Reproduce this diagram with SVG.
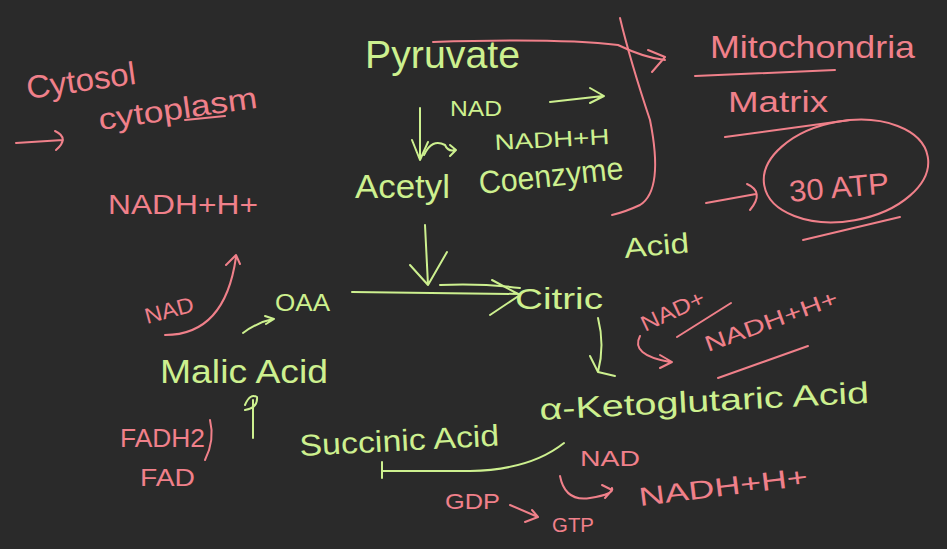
<svg xmlns="http://www.w3.org/2000/svg" width="947" height="549" viewBox="0 0 947 549">
<style>
.p{fill:#f0808a}
.g{fill:#cdf08f}
text{font-family:"Liberation Sans",Arial,sans-serif}
.lp{stroke:#f0808a;stroke-width:2;fill:none;stroke-linecap:round;stroke-linejoin:round}
.lg{stroke:#cdf08f;stroke-width:2;fill:none;stroke-linecap:round;stroke-linejoin:round}
</style>
<rect width="947" height="549" fill="#2a2a2a"/>
<g id="cytosol"><text class="p" x="28" y="99" font-size="32" textLength="110" lengthAdjust="spacingAndGlyphs" transform="rotate(-8 28 99)">Cytosol</text></g>
<g id="cytoplasm"><text class="p" x="100" y="130" font-size="30" textLength="160" lengthAdjust="spacingAndGlyphs" transform="rotate(-8 100 130)">cytoplasm</text></g>
<g id="nadh-left"><text class="p" x="108" y="214" font-size="28" textLength="150" lengthAdjust="spacingAndGlyphs">NADH+H+</text></g>
<g id="nad-left"><text class="p" x="147" y="324" font-size="22" textLength="50" lengthAdjust="spacingAndGlyphs" transform="rotate(-15 147 324)">NAD</text></g>
<g id="oaa"><text class="g" x="275" y="311" font-size="24" textLength="55" lengthAdjust="spacingAndGlyphs">OAA</text></g>
<g id="malic"><text class="g" x="160" y="383" font-size="34" textLength="168" lengthAdjust="spacingAndGlyphs">Malic Acid</text></g>
<g id="fadh2"><text class="p" x="120" y="447" font-size="26" textLength="85" lengthAdjust="spacingAndGlyphs">FADH2</text></g>
<g id="fad"><text class="p" x="140" y="486" font-size="24" textLength="55" lengthAdjust="spacingAndGlyphs">FAD</text></g>
<g id="succinic"><text class="g" x="300" y="456" font-size="30" textLength="200" lengthAdjust="spacingAndGlyphs" transform="rotate(-3 300 456)">Succinic Acid</text></g>
<g id="ketoglutaric"><text class="g" x="540" y="420" font-size="30" textLength="330" lengthAdjust="spacingAndGlyphs" transform="rotate(-3 540 420)">α-Ketoglutaric Acid</text></g>
<g id="citric"><text class="g" x="515" y="309" font-size="30" textLength="88" lengthAdjust="spacingAndGlyphs">Citric</text><text class="g" x="625" y="258" font-size="28" textLength="65" lengthAdjust="spacingAndGlyphs" transform="rotate(-5 625 258)">Acid</text></g>
<g id="nadplus"><text class="p" x="645" y="332" font-size="22" textLength="68" lengthAdjust="spacingAndGlyphs" transform="rotate(-25 645 332)">NAD+</text></g>
<g id="nadh-mid"><text class="p" x="708" y="352" font-size="22" textLength="140" lengthAdjust="spacingAndGlyphs" transform="rotate(-20 708 352)">NADH+H+</text></g>
<g id="nad-bottom"><text class="p" x="580" y="466" font-size="22" textLength="60" lengthAdjust="spacingAndGlyphs">NAD</text></g>
<g id="nadh-bottom"><text class="p" x="640" y="506" font-size="26" textLength="170" lengthAdjust="spacingAndGlyphs" transform="rotate(-7 640 506)">NADH+H+</text></g>
<g id="gdp"><text class="p" x="445" y="509" font-size="22" textLength="55" lengthAdjust="spacingAndGlyphs">GDP</text></g>
<g id="gtp"><text class="p" x="552" y="532" font-size="20" textLength="42" lengthAdjust="spacingAndGlyphs">GTP</text></g>
<g id="pyruvate"><text class="g" x="365" y="68" font-size="38" textLength="155" lengthAdjust="spacingAndGlyphs">Pyruvate</text></g>
<g id="nad-top"><text class="g" x="450" y="116" font-size="22" textLength="52" lengthAdjust="spacingAndGlyphs">NAD</text></g>
<g id="nadh-top"><text class="g" x="495" y="150" font-size="22" textLength="115" lengthAdjust="spacingAndGlyphs" transform="rotate(-3 495 150)">NADH+H</text></g>
<g id="acetyl"><text class="g" x="355" y="198" font-size="34" textLength="95" lengthAdjust="spacingAndGlyphs">Acetyl</text><text class="g" x="480" y="194" font-size="32" textLength="145" lengthAdjust="spacingAndGlyphs" transform="rotate(-6 480 194)">Coenzyme</text></g>
<g id="mitochondria"><text class="p" x="710" y="58" font-size="32" textLength="205" lengthAdjust="spacingAndGlyphs">Mitochondria</text></g>
<g id="matrix"><text class="p" x="728" y="112" font-size="30" textLength="100" lengthAdjust="spacingAndGlyphs">Matrix</text></g>
<g id="atp"><ellipse class="lp" cx="846" cy="171" rx="83" ry="50" transform="rotate(-10 846 171)"/><text class="p" x="790" y="202" font-size="30" textLength="100" lengthAdjust="spacingAndGlyphs" transform="rotate(-5 790 202)">30 ATP</text></g>
<g id="connectors">
<path class="lp" d="M16 143 L63 140 M55 131 Q70 138 56 150"/>
<path class="lp" d="M185 120 L225 116"/>
<path class="lp" d="M165 335 Q225 335 236 257 M226 265 L236 255 L240 264"/>
<path class="lp" d="M210 420 Q215 440 205 460"/>
<path class="lp" d="M433 42 Q560 38 618 45 Q645 58 665 60 M648 50 L665 57 L652 72"/>
<path class="lp" d="M620 18 Q630 60 650 120 Q664 190 640 205 Q625 212 612 215"/>
<path class="lp" d="M695 76 L835 70"/>
<path class="lp" d="M725 137 L850 120"/>
<path class="lp" d="M803 240 L900 217"/>
<path class="lp" d="M706 203 L756 194 M747 184 Q765 192 750 210"/>
<path class="lp" d="M640 336 Q630 355 670 362 M660 355 L672 362 L660 368"/>
<path class="lp" d="M677 337 L731 303"/>
<path class="lp" d="M718 378 L808 346"/>
<path class="lp" d="M510 505 L538 517 M525 522 L538 517 L532 510"/>
<path class="lp" d="M560 476 Q565 502 590 498 Q615 494 612 488 M602 485 L612 490 L605 498"/>
<path class="lg" d="M352 292 L520 294 M492 280 L520 295 L490 315"/>
<path class="lg" d="M440 285 Q480 283 520 288"/>
<path class="lg" d="M425 225 L428 285 M410 265 L428 285 L447 252"/>
<path class="lg" d="M420 108 L420 160 M412 140 L420 160 L428 142"/>
<path class="lg" d="M424 155 Q432 138 445 145 Q448 152 455 150 M450 145 L456 150 L450 156"/>
<path class="lg" d="M550 102 L603 96 M590 88 L604 96 L590 103"/>
<path class="lg" d="M243 333 Q258 322 273 319 M265 316 L274 319 L266 324"/>
<path class="lg" d="M253 438 L253 400 M245 405 Q250 393 257 397 Q258 408 245 410"/>
<path class="lg" d="M598 318 Q605 345 598 372 L615 376 M598 372 L590 356"/>
<path class="lg" d="M564 443 Q530 470 470 471 L382 471 M382 462 L382 478"/>
</g>
</svg>
